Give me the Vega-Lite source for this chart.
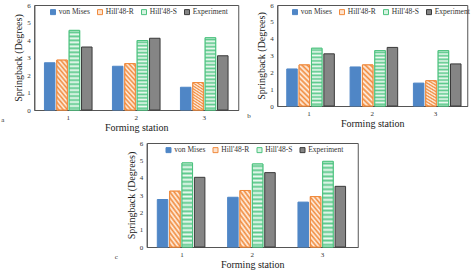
{
  "$schema": "https://vega.github.io/schema/vega-lite/v6.json",
  "padding": {"left": 0, "top": 0, "right": 0, "bottom": 0},
  "background": "white",
  "datasets": {
    "sb": [
      {"panel": "a", "station": "1", "series": "von Mises", "value": 2.7},
      {"panel": "a", "station": "1", "series": "Hill'48-R", "value": 2.85},
      {"panel": "a", "station": "1", "series": "Hill'48-S", "value": 4.55},
      {"panel": "a", "station": "1", "series": "Experiment", "value": 3.6},
      {"panel": "a", "station": "2", "series": "von Mises", "value": 2.5},
      {"panel": "a", "station": "2", "series": "Hill'48-R", "value": 2.65},
      {"panel": "a", "station": "2", "series": "Hill'48-S", "value": 3.97},
      {"panel": "a", "station": "2", "series": "Experiment", "value": 4.1},
      {"panel": "a", "station": "3", "series": "von Mises", "value": 1.3},
      {"panel": "a", "station": "3", "series": "Hill'48-R", "value": 1.57},
      {"panel": "a", "station": "3", "series": "Hill'48-S", "value": 4.13},
      {"panel": "a", "station": "3", "series": "Experiment", "value": 3.1},
      {"panel": "b", "station": "1", "series": "von Mises", "value": 2.2},
      {"panel": "b", "station": "1", "series": "Hill'48-R", "value": 2.44},
      {"panel": "b", "station": "1", "series": "Hill'48-S", "value": 3.43},
      {"panel": "b", "station": "1", "series": "Experiment", "value": 3.1},
      {"panel": "b", "station": "2", "series": "von Mises", "value": 2.32},
      {"panel": "b", "station": "2", "series": "Hill'48-R", "value": 2.44},
      {"panel": "b", "station": "2", "series": "Hill'48-S", "value": 3.29},
      {"panel": "b", "station": "2", "series": "Experiment", "value": 3.48},
      {"panel": "b", "station": "3", "series": "von Mises", "value": 1.36},
      {"panel": "b", "station": "3", "series": "Hill'48-R", "value": 1.5},
      {"panel": "b", "station": "3", "series": "Hill'48-S", "value": 3.29},
      {"panel": "b", "station": "3", "series": "Experiment", "value": 2.5},
      {"panel": "c", "station": "1", "series": "von Mises", "value": 2.74},
      {"panel": "c", "station": "1", "series": "Hill'48-R", "value": 3.22},
      {"panel": "c", "station": "1", "series": "Hill'48-S", "value": 4.85},
      {"panel": "c", "station": "1", "series": "Experiment", "value": 4.02},
      {"panel": "c", "station": "2", "series": "von Mises", "value": 2.87},
      {"panel": "c", "station": "2", "series": "Hill'48-R", "value": 3.26},
      {"panel": "c", "station": "2", "series": "Hill'48-S", "value": 4.79},
      {"panel": "c", "station": "2", "series": "Experiment", "value": 4.29},
      {"panel": "c", "station": "3", "series": "von Mises", "value": 2.59},
      {"panel": "c", "station": "3", "series": "Hill'48-R", "value": 2.91},
      {"panel": "c", "station": "3", "series": "Hill'48-S", "value": 4.94},
      {"panel": "c", "station": "3", "series": "Experiment", "value": 3.5}
    ]
  },
  "data": {"name": "sb"},
  "config": {
    "font": "Liberation Serif",
    "view": {"stroke": "#555555", "strokeWidth": 1},
    "axis": {"labelFont": "Liberation Serif", "titleFont": "Liberation Serif", "labelFontSize": 7, "titleFontSize": 10, "titleFontWeight": "normal", "labelColor": "#333333", "titleColor": "#222222", "domainColor": "#555555", "ticks": false, "grid": false},
    "legend": {"orient": "none", "direction": "horizontal", "symbolType": "square", "symbolSize": 25, "symbolStrokeWidth": 1, "labelFont": "Liberation Serif", "labelFontSize": 7.5, "labelColor": "#333333", "columnPadding": 5, "labelOffset": 2, "title": null},
    "title": {"font": "Liberation Serif", "fontSize": 7, "fontWeight": "normal", "color": "#333333"}
  },
  "resolve": {"scale": {"fill": "independent", "stroke": "independent"}, "legend": {"fill": "independent", "stroke": "independent"}},
  "spacing": 5,
  "center": true,
  "vconcat": [
    {
      "spacing": 7,
      "resolve": {"scale": {"fill": "independent", "stroke": "independent"}, "legend": {"fill": "independent", "stroke": "independent"}},
      "hconcat": [
        {
          "width": 204, "height": 105,
          "title": {"text": "a", "orient": "bottom", "anchor": "start", "frame": "group", "offset": -16, "dx": -33},
          "transform": [{"filter": {"field": "panel", "equal": "a"}}],
          "encoding": {
            "x": {"field": "station", "type": "ordinal", "title": "Forming station", "scale": {"paddingInner": 0.3, "paddingOuter": 0.15}, "axis": {"labelAngle": 0, "labelPadding": 3, "titlePadding": 2}},
            "xOffset": {"field": "series", "type": "nominal", "scale": {"domain": ["von Mises", "Hill'48-R", "Hill'48-S", "Experiment"], "paddingInner": 0.15}},
            "y": {"field": "value", "type": "quantitative", "title": "Springback (Degrees)", "scale": {"domain": [0, 6]}, "axis": {"values": [0, 1, 2, 3, 4, 5, 6], "labelPadding": 4, "titlePadding": 3, "titleFontSize": 10}}
          },
          "layer": [
            {
              "mark": {"type": "bar", "strokeWidth": 1},
              "encoding": {
                "fill": {"field": "series", "type": "nominal", "scale": {"domain": ["von Mises", "Hill'48-R", "Hill'48-S", "Experiment"], "range": ["#4f86c6", "#fde2cc", "#d6f3e1", "#858585"]}, "legend": {"legendX": 15, "legendY": 3}},
                "stroke": {"field": "series", "type": "nominal", "scale": {"domain": ["von Mises", "Hill'48-R", "Hill'48-S", "Experiment"], "range": ["#4f86c6", "#f08a3c", "#4cc27e", "#3a3a3a"]}, "legend": {"legendX": 15, "legendY": 3}}
              }
            },
            {
              "transform": [{"filter": {"field": "series", "equal": "Hill'48-S"}}],
              "mark": {"type": "bar", "stroke": "#4cc27e", "strokeWidth": 1, "fill": {"gradient": "linear", "x1": 0, "y1": 0, "x2": 0, "y2": 1, "stops": [
                {"offset": 0, "color": "#eefaf2"}, {"offset": 0.025, "color": "#5cc98c"}, {"offset": 0.05, "color": "#eefaf2"}, {"offset": 0.075, "color": "#5cc98c"}, {"offset": 0.1, "color": "#eefaf2"}, {"offset": 0.125, "color": "#5cc98c"}, {"offset": 0.15, "color": "#eefaf2"}, {"offset": 0.175, "color": "#5cc98c"}, {"offset": 0.2, "color": "#eefaf2"}, {"offset": 0.225, "color": "#5cc98c"}, {"offset": 0.25, "color": "#eefaf2"}, {"offset": 0.275, "color": "#5cc98c"}, {"offset": 0.3, "color": "#eefaf2"}, {"offset": 0.325, "color": "#5cc98c"}, {"offset": 0.35, "color": "#eefaf2"}, {"offset": 0.375, "color": "#5cc98c"}, {"offset": 0.4, "color": "#eefaf2"}, {"offset": 0.425, "color": "#5cc98c"}, {"offset": 0.45, "color": "#eefaf2"}, {"offset": 0.475, "color": "#5cc98c"}, {"offset": 0.5, "color": "#eefaf2"}, {"offset": 0.525, "color": "#5cc98c"}, {"offset": 0.55, "color": "#eefaf2"}, {"offset": 0.575, "color": "#5cc98c"}, {"offset": 0.6, "color": "#eefaf2"}, {"offset": 0.625, "color": "#5cc98c"}, {"offset": 0.65, "color": "#eefaf2"}, {"offset": 0.675, "color": "#5cc98c"}, {"offset": 0.7, "color": "#eefaf2"}, {"offset": 0.725, "color": "#5cc98c"}, {"offset": 0.75, "color": "#eefaf2"}, {"offset": 0.775, "color": "#5cc98c"}, {"offset": 0.8, "color": "#eefaf2"}, {"offset": 0.825, "color": "#5cc98c"}, {"offset": 0.85, "color": "#eefaf2"}, {"offset": 0.875, "color": "#5cc98c"}, {"offset": 0.9, "color": "#eefaf2"}, {"offset": 0.925, "color": "#5cc98c"}, {"offset": 0.95, "color": "#eefaf2"}, {"offset": 0.975, "color": "#5cc98c"}, {"offset": 1, "color": "#eefaf2"}
              ]}}
            },
            {
              "transform": [{"filter": {"field": "series", "equal": "Hill'48-R"}}],
              "mark": {"type": "bar", "stroke": "#f08a3c", "strokeWidth": 1, "fill": {"gradient": "linear", "x1": 0, "y1": 1, "x2": 0.294, "y2": -0.176, "stops": [
                {"offset": 0, "color": "#fff3e8"}, {"offset": 0.0417, "color": "#f08a3c"}, {"offset": 0.0833, "color": "#fff3e8"}, {"offset": 0.125, "color": "#f08a3c"}, {"offset": 0.1667, "color": "#fff3e8"}, {"offset": 0.2083, "color": "#f08a3c"}, {"offset": 0.25, "color": "#fff3e8"}, {"offset": 0.2917, "color": "#f08a3c"}, {"offset": 0.3333, "color": "#fff3e8"}, {"offset": 0.375, "color": "#f08a3c"}, {"offset": 0.4167, "color": "#fff3e8"}, {"offset": 0.4583, "color": "#f08a3c"}, {"offset": 0.5, "color": "#fff3e8"}, {"offset": 0.5417, "color": "#f08a3c"}, {"offset": 0.5833, "color": "#fff3e8"}, {"offset": 0.625, "color": "#f08a3c"}, {"offset": 0.6667, "color": "#fff3e8"}, {"offset": 0.7083, "color": "#f08a3c"}, {"offset": 0.75, "color": "#fff3e8"}, {"offset": 0.7917, "color": "#f08a3c"}, {"offset": 0.8333, "color": "#fff3e8"}, {"offset": 0.875, "color": "#f08a3c"}, {"offset": 0.9167, "color": "#fff3e8"}, {"offset": 0.9583, "color": "#f08a3c"}, {"offset": 1, "color": "#fff3e8"}
              ]}}
            }
          ]
        },
        {
          "width": 190, "height": 101,
          "title": {"text": "b", "orient": "bottom", "anchor": "start", "frame": "group", "offset": -16, "dx": -30},
          "transform": [{"filter": {"field": "panel", "equal": "b"}}],
          "encoding": {
            "x": {"field": "station", "type": "ordinal", "title": "Forming station", "scale": {"paddingInner": 0.3, "paddingOuter": 0.15}, "axis": {"labelAngle": 0, "labelPadding": 3, "titlePadding": 2}},
            "xOffset": {"field": "series", "type": "nominal", "scale": {"domain": ["von Mises", "Hill'48-R", "Hill'48-S", "Experiment"], "paddingInner": 0.15}},
            "y": {"field": "value", "type": "quantitative", "title": "Springback (Degrees)", "scale": {"domain": [0, 6]}, "axis": {"values": [0, 1, 2, 3, 4, 5, 6], "labelPadding": 4, "titlePadding": 3, "titleFontSize": 10}}
          },
          "layer": [
            {
              "mark": {"type": "bar", "strokeWidth": 1},
              "encoding": {
                "fill": {"field": "series", "type": "nominal", "scale": {"domain": ["von Mises", "Hill'48-R", "Hill'48-S", "Experiment"], "range": ["#4f86c6", "#fde2cc", "#d6f3e1", "#858585"]}, "legend": {"legendX": 14, "legendY": 3}},
                "stroke": {"field": "series", "type": "nominal", "scale": {"domain": ["von Mises", "Hill'48-R", "Hill'48-S", "Experiment"], "range": ["#4f86c6", "#f08a3c", "#4cc27e", "#3a3a3a"]}, "legend": {"legendX": 14, "legendY": 3}}
              }
            },
            {
              "transform": [{"filter": {"field": "series", "equal": "Hill'48-S"}}],
              "mark": {"type": "bar", "stroke": "#4cc27e", "strokeWidth": 1, "fill": {"gradient": "linear", "x1": 0, "y1": 0, "x2": 0, "y2": 1, "stops": [
                {"offset": 0, "color": "#eefaf2"}, {"offset": 0.03125, "color": "#5cc98c"}, {"offset": 0.0625, "color": "#eefaf2"}, {"offset": 0.09375, "color": "#5cc98c"}, {"offset": 0.125, "color": "#eefaf2"}, {"offset": 0.15625, "color": "#5cc98c"}, {"offset": 0.1875, "color": "#eefaf2"}, {"offset": 0.21875, "color": "#5cc98c"}, {"offset": 0.25, "color": "#eefaf2"}, {"offset": 0.28125, "color": "#5cc98c"}, {"offset": 0.3125, "color": "#eefaf2"}, {"offset": 0.34375, "color": "#5cc98c"}, {"offset": 0.375, "color": "#eefaf2"}, {"offset": 0.40625, "color": "#5cc98c"}, {"offset": 0.4375, "color": "#eefaf2"}, {"offset": 0.46875, "color": "#5cc98c"}, {"offset": 0.5, "color": "#eefaf2"}, {"offset": 0.53125, "color": "#5cc98c"}, {"offset": 0.5625, "color": "#eefaf2"}, {"offset": 0.59375, "color": "#5cc98c"}, {"offset": 0.625, "color": "#eefaf2"}, {"offset": 0.65625, "color": "#5cc98c"}, {"offset": 0.6875, "color": "#eefaf2"}, {"offset": 0.71875, "color": "#5cc98c"}, {"offset": 0.75, "color": "#eefaf2"}, {"offset": 0.78125, "color": "#5cc98c"}, {"offset": 0.8125, "color": "#eefaf2"}, {"offset": 0.84375, "color": "#5cc98c"}, {"offset": 0.875, "color": "#eefaf2"}, {"offset": 0.90625, "color": "#5cc98c"}, {"offset": 0.9375, "color": "#eefaf2"}, {"offset": 0.96875, "color": "#5cc98c"}, {"offset": 1, "color": "#eefaf2"}
              ]}}
            },
            {
              "transform": [{"filter": {"field": "series", "equal": "Hill'48-R"}}],
              "mark": {"type": "bar", "stroke": "#f08a3c", "strokeWidth": 1, "fill": {"gradient": "linear", "x1": 0, "y1": 1, "x2": 0.294, "y2": -0.176, "stops": [
                {"offset": 0, "color": "#fff3e8"}, {"offset": 0.05, "color": "#f08a3c"}, {"offset": 0.1, "color": "#fff3e8"}, {"offset": 0.15, "color": "#f08a3c"}, {"offset": 0.2, "color": "#fff3e8"}, {"offset": 0.25, "color": "#f08a3c"}, {"offset": 0.3, "color": "#fff3e8"}, {"offset": 0.35, "color": "#f08a3c"}, {"offset": 0.4, "color": "#fff3e8"}, {"offset": 0.45, "color": "#f08a3c"}, {"offset": 0.5, "color": "#fff3e8"}, {"offset": 0.55, "color": "#f08a3c"}, {"offset": 0.6, "color": "#fff3e8"}, {"offset": 0.65, "color": "#f08a3c"}, {"offset": 0.7, "color": "#fff3e8"}, {"offset": 0.75, "color": "#f08a3c"}, {"offset": 0.8, "color": "#fff3e8"}, {"offset": 0.85, "color": "#f08a3c"}, {"offset": 0.9, "color": "#fff3e8"}, {"offset": 0.95, "color": "#f08a3c"}, {"offset": 1, "color": "#fff3e8"}
              ]}}
            }
          ]
        }
      ]
    },
    {
      "width": 211, "height": 104,
      "title": {"text": "c", "orient": "bottom", "anchor": "start", "frame": "group", "offset": -16, "dx": -32},
      "transform": [{"filter": {"field": "panel", "equal": "c"}}],
      "encoding": {
        "x": {"field": "station", "type": "ordinal", "title": "Forming station", "scale": {"paddingInner": 0.3, "paddingOuter": 0.15}, "axis": {"labelAngle": 0, "labelPadding": 3, "titlePadding": 2}},
        "xOffset": {"field": "series", "type": "nominal", "scale": {"domain": ["von Mises", "Hill'48-R", "Hill'48-S", "Experiment"], "paddingInner": 0.15}},
        "y": {"field": "value", "type": "quantitative", "title": "Springback (Degrees)", "scale": {"domain": [0, 6]}, "axis": {"values": [0, 1, 2, 3, 4, 5, 6], "labelPadding": 4, "titlePadding": 3, "titleFontSize": 10}}
      },
      "layer": [
        {
          "mark": {"type": "bar", "strokeWidth": 1},
          "encoding": {
            "fill": {"field": "series", "type": "nominal", "scale": {"domain": ["von Mises", "Hill'48-R", "Hill'48-S", "Experiment"], "range": ["#4f86c6", "#fde2cc", "#d6f3e1", "#858585"]}, "legend": {"legendX": 18, "legendY": 3}},
            "stroke": {"field": "series", "type": "nominal", "scale": {"domain": ["von Mises", "Hill'48-R", "Hill'48-S", "Experiment"], "range": ["#4f86c6", "#f08a3c", "#4cc27e", "#3a3a3a"]}, "legend": {"legendX": 18, "legendY": 3}}
          }
        },
        {
          "transform": [{"filter": {"field": "series", "equal": "Hill'48-S"}}],
          "mark": {"type": "bar", "stroke": "#4cc27e", "strokeWidth": 1, "fill": {"gradient": "linear", "x1": 0, "y1": 0, "x2": 0, "y2": 1, "stops": [
            {"offset": 0, "color": "#eefaf2"}, {"offset": 0.025, "color": "#5cc98c"}, {"offset": 0.05, "color": "#eefaf2"}, {"offset": 0.075, "color": "#5cc98c"}, {"offset": 0.1, "color": "#eefaf2"}, {"offset": 0.125, "color": "#5cc98c"}, {"offset": 0.15, "color": "#eefaf2"}, {"offset": 0.175, "color": "#5cc98c"}, {"offset": 0.2, "color": "#eefaf2"}, {"offset": 0.225, "color": "#5cc98c"}, {"offset": 0.25, "color": "#eefaf2"}, {"offset": 0.275, "color": "#5cc98c"}, {"offset": 0.3, "color": "#eefaf2"}, {"offset": 0.325, "color": "#5cc98c"}, {"offset": 0.35, "color": "#eefaf2"}, {"offset": 0.375, "color": "#5cc98c"}, {"offset": 0.4, "color": "#eefaf2"}, {"offset": 0.425, "color": "#5cc98c"}, {"offset": 0.45, "color": "#eefaf2"}, {"offset": 0.475, "color": "#5cc98c"}, {"offset": 0.5, "color": "#eefaf2"}, {"offset": 0.525, "color": "#5cc98c"}, {"offset": 0.55, "color": "#eefaf2"}, {"offset": 0.575, "color": "#5cc98c"}, {"offset": 0.6, "color": "#eefaf2"}, {"offset": 0.625, "color": "#5cc98c"}, {"offset": 0.65, "color": "#eefaf2"}, {"offset": 0.675, "color": "#5cc98c"}, {"offset": 0.7, "color": "#eefaf2"}, {"offset": 0.725, "color": "#5cc98c"}, {"offset": 0.75, "color": "#eefaf2"}, {"offset": 0.775, "color": "#5cc98c"}, {"offset": 0.8, "color": "#eefaf2"}, {"offset": 0.825, "color": "#5cc98c"}, {"offset": 0.85, "color": "#eefaf2"}, {"offset": 0.875, "color": "#5cc98c"}, {"offset": 0.9, "color": "#eefaf2"}, {"offset": 0.925, "color": "#5cc98c"}, {"offset": 0.95, "color": "#eefaf2"}, {"offset": 0.975, "color": "#5cc98c"}, {"offset": 1, "color": "#eefaf2"}
          ]}}
        },
        {
          "transform": [{"filter": {"field": "series", "equal": "Hill'48-R"}}],
          "mark": {"type": "bar", "stroke": "#f08a3c", "strokeWidth": 1, "fill": {"gradient": "linear", "x1": 0, "y1": 1, "x2": 0.294, "y2": -0.176, "stops": [
            {"offset": 0, "color": "#fff3e8"}, {"offset": 0.0417, "color": "#f08a3c"}, {"offset": 0.0833, "color": "#fff3e8"}, {"offset": 0.125, "color": "#f08a3c"}, {"offset": 0.1667, "color": "#fff3e8"}, {"offset": 0.2083, "color": "#f08a3c"}, {"offset": 0.25, "color": "#fff3e8"}, {"offset": 0.2917, "color": "#f08a3c"}, {"offset": 0.3333, "color": "#fff3e8"}, {"offset": 0.375, "color": "#f08a3c"}, {"offset": 0.4167, "color": "#fff3e8"}, {"offset": 0.4583, "color": "#f08a3c"}, {"offset": 0.5, "color": "#fff3e8"}, {"offset": 0.5417, "color": "#f08a3c"}, {"offset": 0.5833, "color": "#fff3e8"}, {"offset": 0.625, "color": "#f08a3c"}, {"offset": 0.6667, "color": "#fff3e8"}, {"offset": 0.7083, "color": "#f08a3c"}, {"offset": 0.75, "color": "#fff3e8"}, {"offset": 0.7917, "color": "#f08a3c"}, {"offset": 0.8333, "color": "#fff3e8"}, {"offset": 0.875, "color": "#f08a3c"}, {"offset": 0.9167, "color": "#fff3e8"}, {"offset": 0.9583, "color": "#f08a3c"}, {"offset": 1, "color": "#fff3e8"}
          ]}}
        }
      ]
    }
  ]
}
